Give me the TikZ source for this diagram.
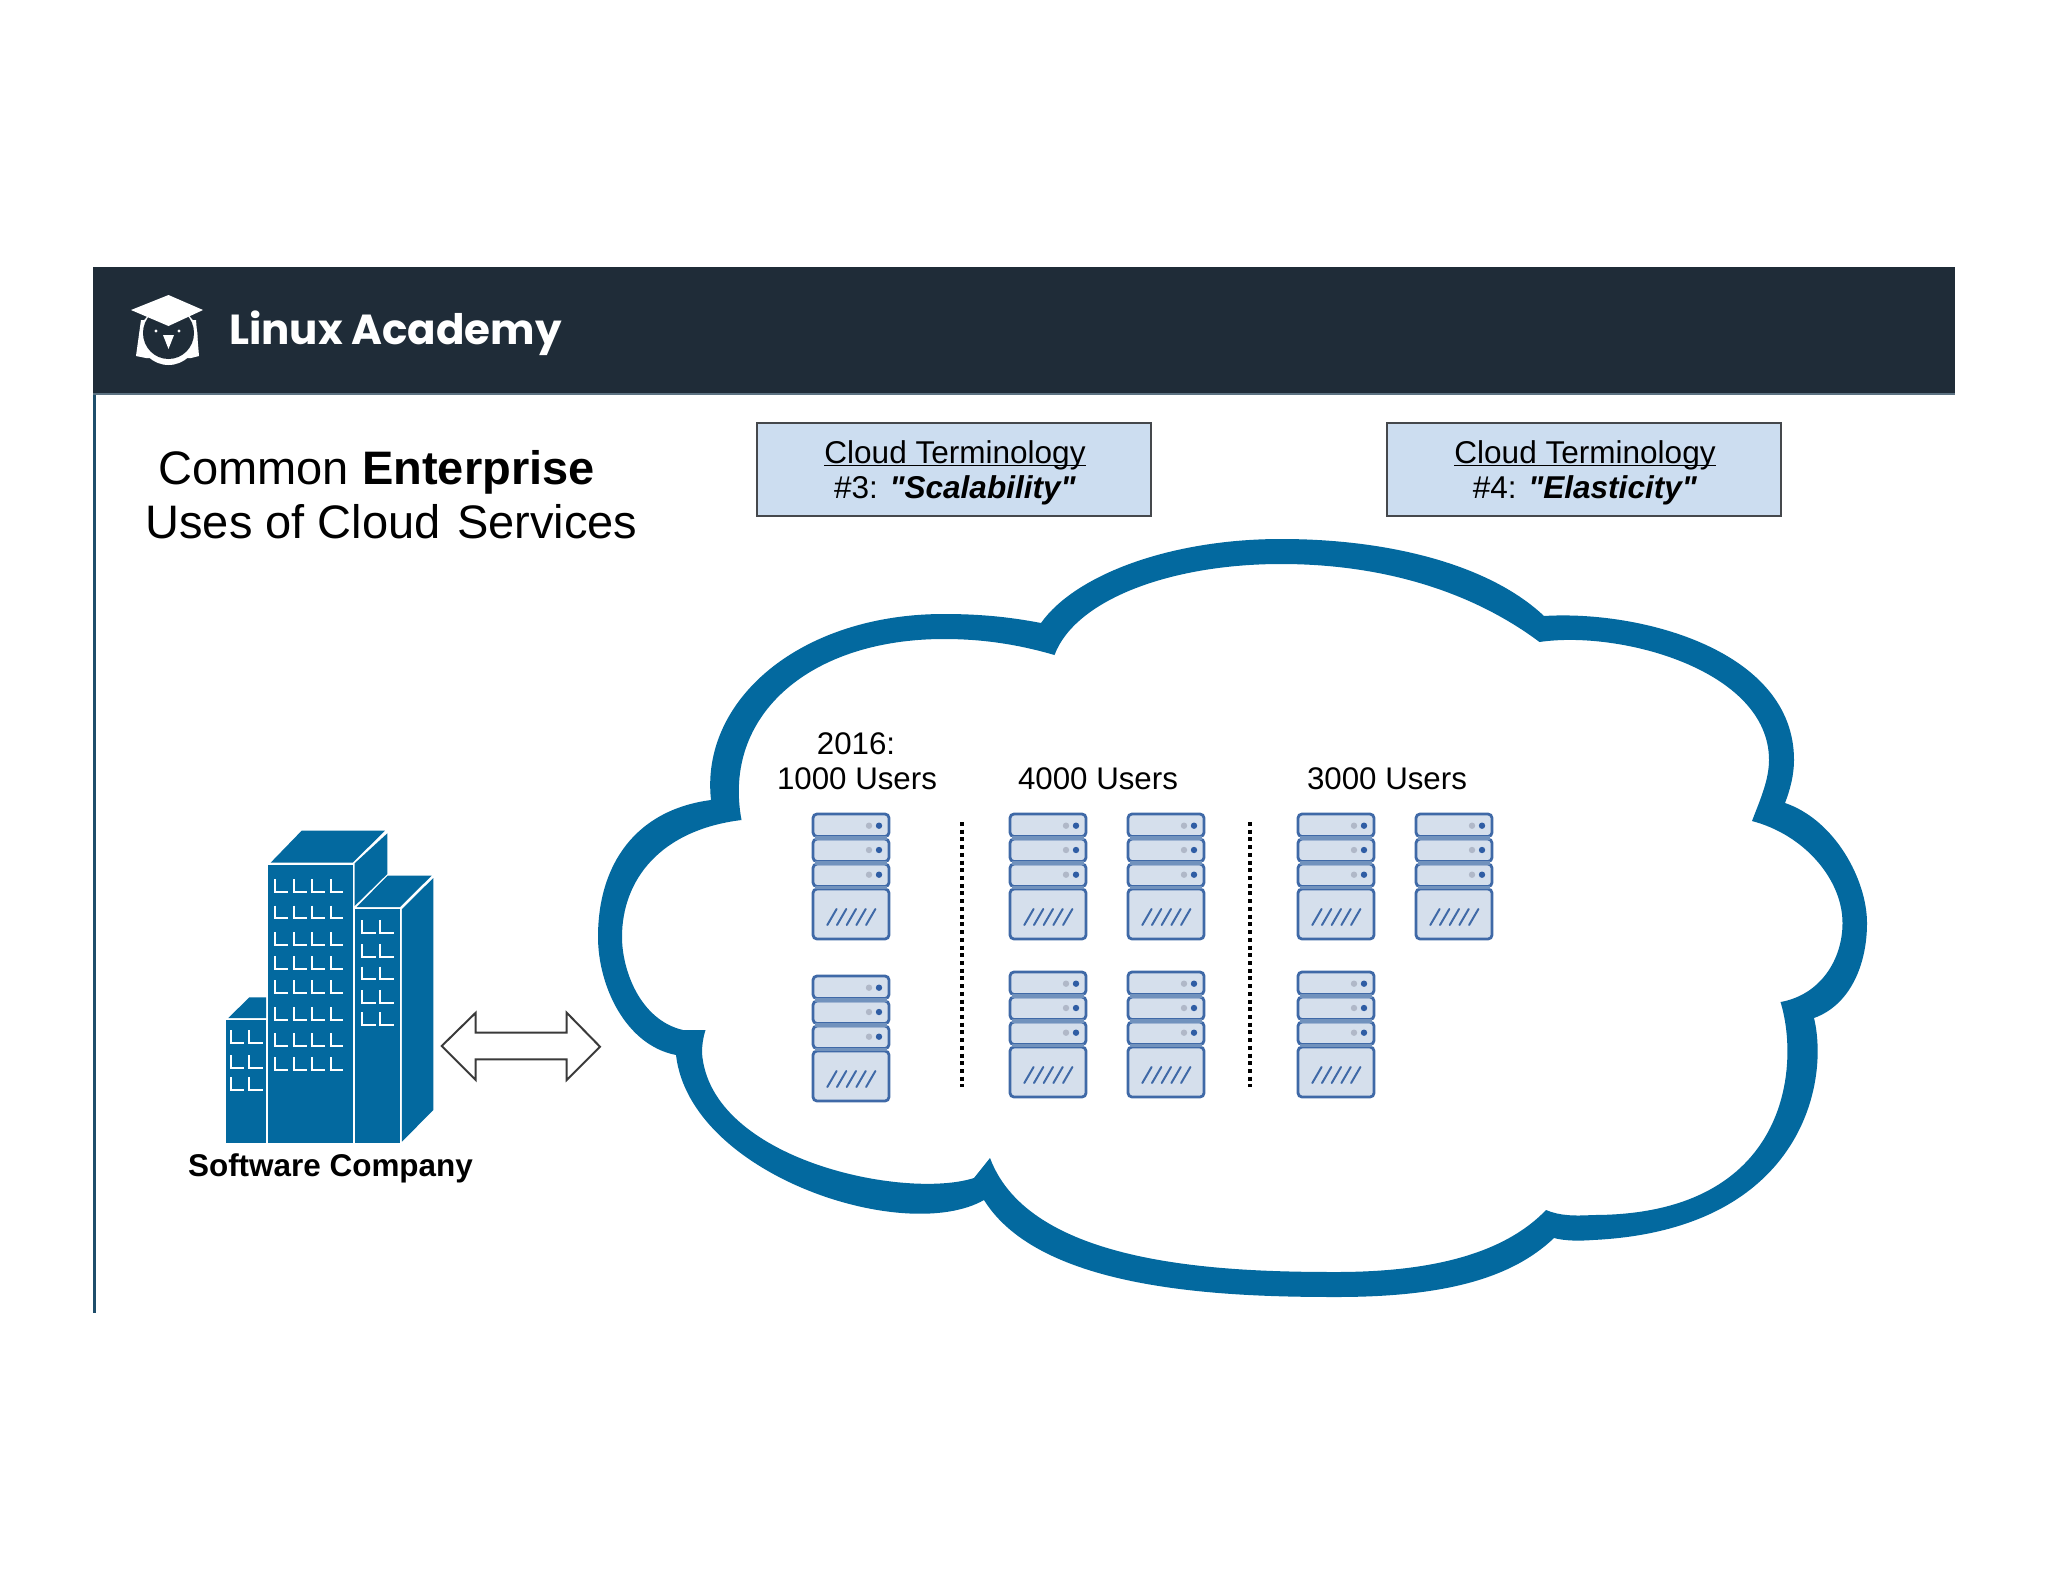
\documentclass[tikz,border=0pt]{standalone}
\usepackage{fontspec}
\setmainfont{Liberation Sans}[Ligatures=TeXOff]
\newfontfamily\logofont{Poppins}
\definecolor{hdr}{HTML}{1F2C38}
\definecolor{hdredge}{HTML}{5C7282}
\definecolor{sideline}{HTML}{1F4E6B}
\definecolor{cloudblue}{HTML}{03699F}
\definecolor{boxfill}{HTML}{CCDDF0}
\definecolor{boxline}{HTML}{45484C}
\definecolor{srvfill}{HTML}{D5DFEC}
\definecolor{srvline}{HTML}{3F69A7}
\definecolor{srvband}{HTML}{7192BD}
\definecolor{srvdotA}{HTML}{B0B8C8}
\definecolor{srvdotB}{HTML}{2F5DA4}
\definecolor{arrowline}{HTML}{3A3A3A}
\newcommand{\pxw}{0.5669pt}
\tikzset{
  lbl/.style={inner sep=0pt,outer sep=0pt,text=black,anchor=base},
  titletext/.style={inner sep=0pt,outer sep=0pt,text=black,anchor=base west,font=\fontsize{26.75pt}{30pt}\selectfont},
  termbox/.style={draw=boxline,fill=boxfill,line width=2.8*\pxw},
  termtext/.style={lbl,font=\fontsize{17.95pt}{21pt}\selectfont},
  userstext/.style={lbl,font=\fontsize{17.8pt}{21pt}\selectfont},
  slotbox/.style={draw=srvline,fill=srvfill,line width=2.8*\pxw,rounded corners=4*\pxw},
  bandline/.style={draw=srvband,line width=3.2*\pxw},
  slashline/.style={draw=srvline,line width=2*\pxw,line cap=round},
  sepline/.style={draw=black,line width=4*\pxw,dash pattern=on 4*\pxw off 3.75*\pxw},
  winline/.style={draw=white,line width=1.7*\pxw},
  bluefill/.style={fill=cloudblue,draw=none},
}
\newcommand{\serverrack}[2]{%
  \begin{scope}[shift={(#1,#2)}]
    \draw[slotbox] (0,75) rectangle (76,125);
    \draw[slotbox] (0,50) rectangle (76,72.5);
    \draw[slotbox] (0,25) rectangle (76,47.5);
    \draw[slotbox] (0,0) rectangle (76,22.5);
    \draw[bandline] (2,24) -- (74,24);
    \draw[bandline] (2,49) -- (74,49);
    \draw[bandline] (2,73.7) -- (74,73.7);
    \foreach \yy in {11.7,36,60.7}{
      \fill[srvdotA] (56,\yy) circle (3.2);
      \fill[srvdotB] (66,\yy) circle (3.2);
    }
    \foreach \xx in {14.3,24,33.7,43.4,53.1}{
      \draw[slashline] (\xx,111) -- (\xx+9.3,95);
    }
  \end{scope}}
\begin{document}
\begin{tikzpicture}[x=0.02cm,y=-0.02cm]
\useasboundingbox (0,0) rectangle (2048,1582);
\fill[white] (0,0) rectangle (2048,1582);

% header
\draw[sideline,line width=2.4*\pxw] (94.5,390) -- (94.5,1313);
\fill[hdr] (93,267) rectangle (1955,393);
\draw[hdredge,line width=1.5*\pxw] (93,394) -- (1955,394);

% logo
\fill[white] (168.5,336) circle (29);
\fill[white] (141,320) -- (136,356) -- (146,358) -- (191,358) -- (199,356) -- (196,320) -- cycle;
\fill[hdr] (168.5,333) ellipse (25.5 and 26);
\fill[white] (168.5,295) -- (203,310) -- (168.5,326) -- (131,310) -- cycle;
\fill[white] (156,331) circle (1.6);
\fill[white] (179,331) circle (1.6);
\fill[white] (163,335) -- (174,335) -- (168.5,349) -- cycle;
\node[lbl,anchor=base west,text=white,font=\logofont\bfseries\fontsize{23.9pt}{28pt}\selectfont] (logotext) at (229,344) {Linux Academy};

% title
\node[titletext] (title1) at (158.5,484) {Common \textbf{Enterprise}};
\node[titletext] (title2) at (145.5,538) {Uses of Cloud\hspace{2pt} Services};

% term boxes
\draw[termbox] (757,423) rectangle (1151,516);
\node[termtext] (t3a) at (955,463) {\underline{\smash{Cloud Terminology}}};
\node[termtext] (t3b) at (955,498) {\#3: \textbf{\textit{"Scalability"}}};
\draw[termbox] (1387,423) rectangle (1781,516);
\node[termtext] (t4a) at (1585,463) {\underline{\smash{Cloud Terminology}}};
\node[termtext] (t4b) at (1585,498) {\#4: \textbf{\textit{"Elasticity"}}};

% cloud
\fill[cloudblue,even odd rule]
  (1041,623) .. controls (1075,575) and (1170,539) .. (1281,539)
  .. controls (1390,539) and (1490,565) .. (1544,616)
  .. controls (1640,610) and (1794,650) .. (1794,760)
  .. controls (1794,775) and (1790,790) .. (1785,803)
  .. controls (1835,820) and (1867,880) .. (1867,923)
  .. controls (1867,965) and (1850,1005) .. (1814,1018)
  .. controls (1830,1085) and (1800,1230) .. (1593,1240)
  .. controls (1580,1241) and (1565,1241) .. (1554,1238)
  .. controls (1510,1280) and (1440,1297) .. (1336,1297)
  .. controls (1220,1297) and (1040,1290) .. (984,1200)
  .. controls (905,1245) and (690,1175) .. (676,1055)
  .. controls (625,1045) and (598,985) .. (598,937)
  .. controls (598,865) and (635,810) .. (711,800)
  .. controls (700,700) and (800,614) .. (944,614)
  .. controls (980,614) and (1010,617) .. (1041,623)
  -- cycle
  (1054.5,655) .. controls (1075,600) and (1170,564) .. (1281,564)
  .. controls (1380,564) and (1470,590) .. (1539.5,642)
  .. controls (1620,630) and (1769,670) .. (1769,760)
  .. controls (1769,780) and (1760,800) .. (1752,821)
  .. controls (1805,835) and (1842.5,880) .. (1842.5,923)
  .. controls (1842.5,960) and (1820,995) .. (1780.5,1002)
  .. controls (1800,1065) and (1790,1215) .. (1593,1215)
  .. controls (1575,1216) and (1560,1216) .. (1546,1210)
  .. controls (1500,1258) and (1420,1272) .. (1336,1272)
  .. controls (1220,1272) and (1030,1265) .. (990,1158)
  -- (974,1178)
  .. controls (905,1200) and (710,1160) .. (702,1053)
  .. controls (702,1045) and (703,1038) .. (705.5,1030)
  -- (683,1030)
  .. controls (640,1020) and (622,970) .. (622,937)
  .. controls (622,880) and (660,830) .. (741.5,820)
  .. controls (722,715) and (810,639) .. (944,639)
  .. controls (985,639) and (1020,645) .. (1054.5,655)
  -- cycle;

% user labels
\node[userstext] (y2016) at (856,754) {2016:};
\node[userstext] (u1000) at (857,789) {1000 Users};
\node[userstext] (u4000) at (1098,789) {4000 Users};
\node[userstext] (u3000) at (1387,789) {3000 Users};

% servers
\serverrack{813}{814}
\serverrack{813}{976}
\serverrack{1010}{814}
\serverrack{1128}{814}
\serverrack{1010}{972}
\serverrack{1128}{972}
\serverrack{1298}{814}
\serverrack{1416}{814}
\serverrack{1298}{972}

% separators
\draw[sepline] (962,822) -- (962,1087);
\draw[sepline] (1250,822) -- (1250,1087);

% building
\begin{scope}[shift={(200,810)},x=0.00667cm,y=-0.00667cm]
  \fill[bluefill] (205,165) rectangle (458,1000);
  \fill[bluefill] (212,158) -- (305,62) -- (555,62) -- (458,158) -- cycle;
  \fill[bluefill] (464,160) -- (562,70) -- (562,192) -- (464,288) -- cycle;
  \fill[bluefill] (465,297) rectangle (600,1000);
  \fill[bluefill] (470,291) -- (563,197) -- (695,197) -- (600,291) -- cycle;
  \fill[bluefill] (606,297) -- (700,204) -- (700,900) -- (606,995) -- cycle;
  \fill[bluefill] (78,630) rectangle (198,1000);
  \fill[bluefill] (85,624) -- (148,562) -- (198,562) -- (198,624) -- cycle;
  \foreach \yy in {245,325,405,477,548,630,708,780}{
    \foreach \xx in {225,282,336,392}{
      \draw[winline] (\xx,\yy-38) -- (\xx,\yy) -- (\xx+38,\yy);
    }
  }
  \foreach \yy in {368,440,508,578,645}{
    \foreach \xx in {487,541}{
      \draw[winline] (\xx,\yy-38) -- (\xx,\yy) -- (\xx+40,\yy);
    }
  }
  \foreach \yy in {698,773,840}{
    \foreach \xx in {93,148}{
      \draw[winline] (\xx,\yy-38) -- (\xx,\yy) -- (\xx+40,\yy);
    }
  }
\end{scope}
\node[lbl,font=\bfseries\fontsize{17.9pt}{21pt}\selectfont] (company) at (330.5,1176) {Software Company};

% double arrow
\draw[draw=arrowline,fill=white,line width=2*\pxw,line join=miter]
  (441.7,1046) -- (475.7,1012.7) -- (475.7,1032.7) -- (566.7,1032.7) -- (566.7,1012.7)
  -- (600,1046.7) -- (566.7,1080) -- (566.7,1059.3) -- (475.7,1059.3) -- (475.7,1080) -- cycle;
\end{tikzpicture}
\end{document}
